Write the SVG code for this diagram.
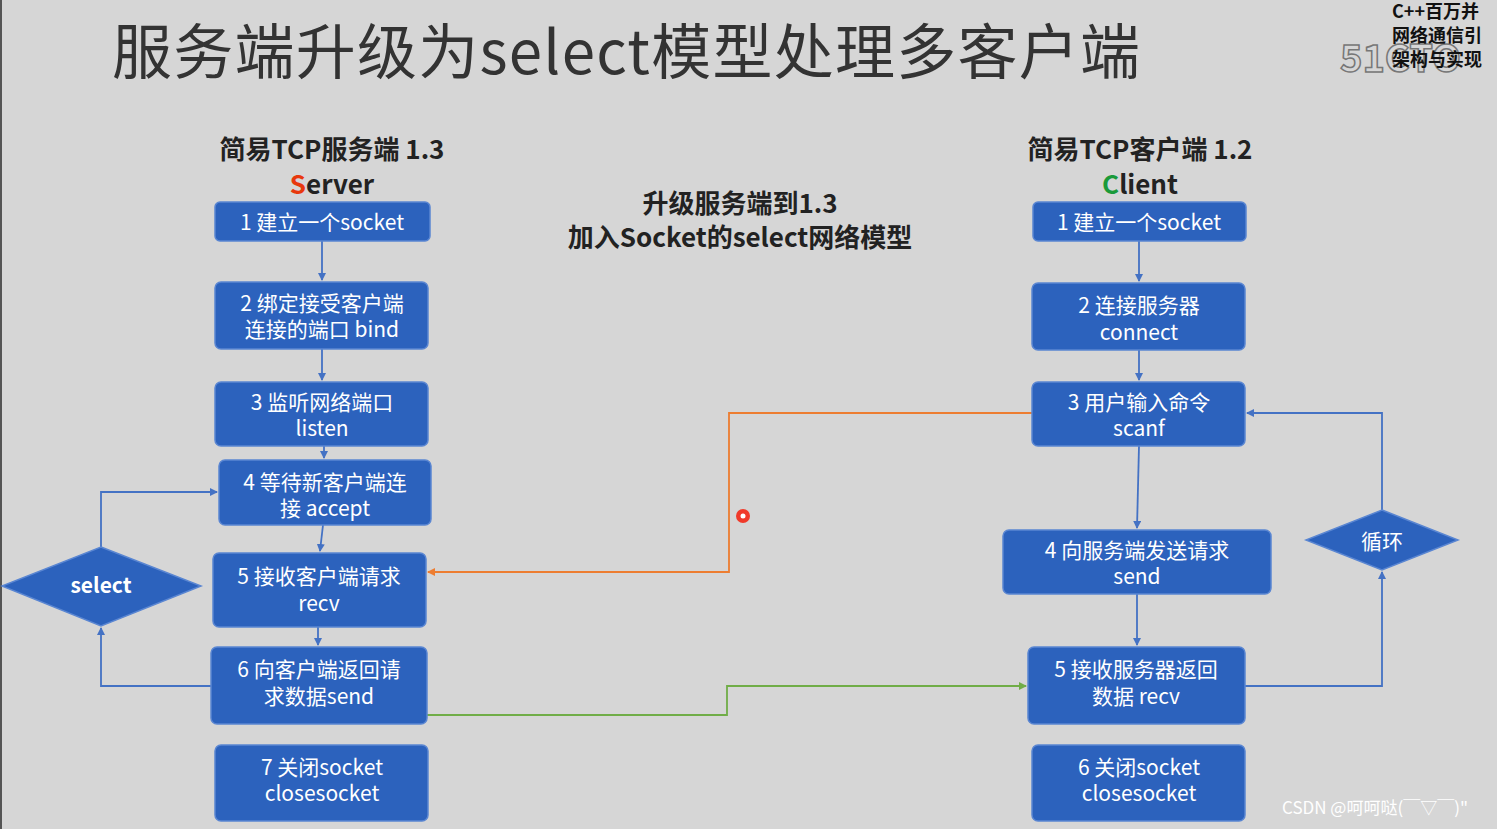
<svg xmlns="http://www.w3.org/2000/svg" width="1497" height="829" viewBox="0 0 1497 829">
<style>
text{font-family:"Noto Sans CJK SC","Noto Sans",sans-serif;}
.b{fill:#2c62bd;stroke:#5a86d2;stroke-width:1.5}
.t{fill:#fff;font-size:21px;text-anchor:middle}
.h{fill:#222;font-size:26px;font-weight:bold;text-anchor:middle}
.c{fill:none;stroke:#4472c4;stroke-width:1.8}
</style>
<defs>
<marker id="a" markerWidth="8" markerHeight="8" refX="7" refY="4" orient="auto" markerUnits="userSpaceOnUse"><path d="M0,0L8,4L0,8z" fill="#4472c4"/></marker>
<marker id="ao" markerWidth="8" markerHeight="8" refX="7" refY="4" orient="auto" markerUnits="userSpaceOnUse"><path d="M0,0L8,4L0,8z" fill="#ed7d31"/></marker>
<marker id="ag" markerWidth="8" markerHeight="8" refX="7" refY="4" orient="auto" markerUnits="userSpaceOnUse"><path d="M0,0L8,4L0,8z" fill="#70ad47"/></marker>
</defs>
<rect width="1497" height="829" fill="#d6d6d6"/>
<rect width="2" height="829" fill="#555"/>
<text x="112" y="74" font-size="60" fill="#333" textLength="1028" lengthAdjust="spacing">服务端升级为select模型处理多客户端</text>
<text x="1340" y="72" font-size="38" font-weight="bold" fill="none" stroke="#777" stroke-width="1.5">51CTO</text>
<text x="1392" y="18" font-size="18" font-weight="bold" fill="#111">C++百万并</text>
<text x="1392" y="42" font-size="18" font-weight="bold" fill="#111">网络通信引</text>
<text x="1392" y="66" font-size="18" font-weight="bold" fill="#111">架构与实现</text>
<text x="1375" y="814" font-size="17" fill="#fff" text-anchor="middle">CSDN @呵呵哒(￣▽￣)"</text>

<text class="h" x="332" y="159">简易TCP服务端 1.3</text>
<text class="h" x="332" y="194"><tspan fill="#e8380d">S</tspan>erver</text>
<text class="h" x="1140" y="159">简易TCP客户端 1.2</text>
<text class="h" x="1140" y="194"><tspan fill="#1a9a3a">C</tspan>lient</text>
<text class="h" x="740" y="213">升级服务端到1.3</text>
<text class="h" x="740" y="247">加入Socket的select网络模型</text>

<g id="connectors">
<path class="c" d="M322,241V280" marker-end="url(#a)"/>
<path class="c" d="M322,349V380" marker-end="url(#a)"/>
<path class="c" d="M324,446V458" marker-end="url(#a)"/>
<path class="c" d="M323,525L320,551" marker-end="url(#a)"/>
<path class="c" d="M318,627V645" marker-end="url(#a)"/>
<path class="c" d="M101,547V492H217" marker-end="url(#a)"/>
<path class="c" d="M211,686H101V628" marker-end="url(#a)"/>
<path d="M1032,413H729V572H428" fill="none" stroke="#ed7d31" stroke-width="1.8" marker-end="url(#ao)"/>
<path d="M427,715H727V686H1026" fill="none" stroke="#70ad47" stroke-width="1.8" marker-end="url(#ag)"/>
<path class="c" d="M1139,241V281" marker-end="url(#a)"/>
<path class="c" d="M1139,350V380" marker-end="url(#a)"/>
<path class="c" d="M1139,446L1137,528" marker-end="url(#a)"/>
<path class="c" d="M1137,594V645" marker-end="url(#a)"/>
<path class="c" d="M1245,686H1382V572" marker-end="url(#a)"/>
<path class="c" d="M1382,510V413H1247" marker-end="url(#a)"/>
</g>

<g id="s1"><rect class="b" x="215" y="202" width="215" height="39" rx="5"/><text class="t" x="322" y="230">1 建立一个socket</text></g>
<g id="s2"><rect class="b" x="215" y="282" width="213" height="67" rx="6"/><text class="t" x="322" y="311">2 绑定接受客户端</text><text class="t" x="322" y="337">连接的端口 bind</text></g>
<g id="s3"><rect class="b" x="215" y="382" width="213" height="64" rx="6"/><text class="t" x="322" y="410">3 监听网络端口</text><text class="t" x="322" y="436">listen</text></g>
<g id="s4"><rect class="b" x="219" y="460" width="212" height="65" rx="6"/><text class="t" x="325" y="490">4 等待新客户端连</text><text class="t" x="325" y="516">接 accept</text></g>
<g id="s5"><rect class="b" x="213" y="553" width="213" height="74" rx="6"/><text class="t" x="319" y="584">5 接收客户端请求</text><text class="t" x="319" y="611">recv</text></g>
<g id="s6"><rect class="b" x="211" y="647" width="216" height="77" rx="6"/><text class="t" x="319" y="677">6 向客户端返回请</text><text class="t" x="319" y="704">求数据send</text></g>
<g id="s7"><rect class="b" x="215" y="745" width="213" height="76" rx="6"/><text class="t" x="322" y="775">7 关闭socket</text><text class="t" x="322" y="801">closesocket</text></g>
<g id="select"><path class="b" d="M101,547L201,586L101,626L2,586Z" stroke="none"/><text class="t" x="101" y="593" font-weight="bold">select</text></g>

<g id="c1"><rect class="b" x="1033" y="202" width="213" height="39" rx="5"/><text class="t" x="1139" y="230">1 建立一个socket</text></g>
<g id="c2"><rect class="b" x="1032" y="283" width="213" height="67" rx="6"/><text class="t" x="1139" y="313">2 连接服务器</text><text class="t" x="1139" y="340" font-size="20">connect</text></g>
<g id="c3"><rect class="b" x="1032" y="382" width="213" height="64" rx="6"/><text class="t" x="1139" y="410">3 用户输入命令</text><text class="t" x="1139" y="436">scanf</text></g>
<g id="c4"><rect class="b" x="1003" y="530" width="268" height="64" rx="6"/><text class="t" x="1137" y="558">4 向服务端发送请求</text><text class="t" x="1137" y="584">send</text></g>
<g id="c5"><rect class="b" x="1028" y="647" width="217" height="77" rx="6"/><text class="t" x="1136" y="677">5 接收服务器返回</text><text class="t" x="1136" y="704">数据 recv</text></g>
<g id="c6"><rect class="b" x="1032" y="745" width="213" height="76" rx="6"/><text class="t" x="1139" y="775">6 关闭socket</text><text class="t" x="1139" y="801">closesocket</text></g>
<g id="loop"><path class="b" d="M1382,510L1458,540L1382,570L1306,540Z" stroke="none"/><text class="t" x="1382" y="549">循环</text></g>

<circle cx="743" cy="516" r="7" fill="#f03a2a"/><circle cx="743" cy="516" r="2.5" fill="#fff"/>
</svg>
